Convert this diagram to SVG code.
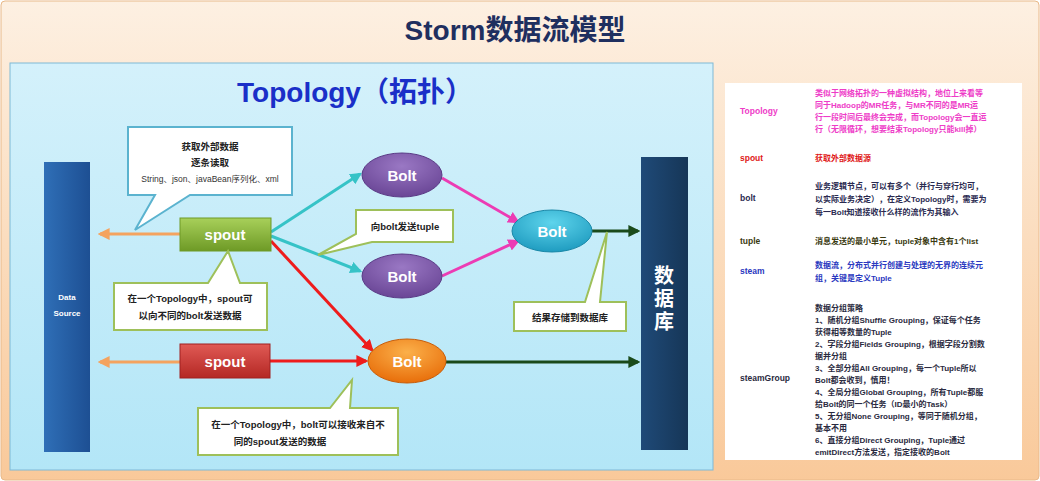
<svg xmlns="http://www.w3.org/2000/svg" width="1040" height="481" viewBox="0 0 1040 481">
<defs>
<linearGradient id="bg" x1="0" y1="0" x2="0" y2="1"><stop offset="0" stop-color="#fdf0e2"/><stop offset="1" stop-color="#f9c99a"/></linearGradient>
<linearGradient id="panel" x1="0" y1="0" x2="0" y2="1"><stop offset="0" stop-color="#d4f1fb"/><stop offset="1" stop-color="#b3e6f7"/></linearGradient>
<linearGradient id="ds" x1="0" y1="0" x2="1" y2="0"><stop offset="0" stop-color="#2f6fb7"/><stop offset="1" stop-color="#1d4f93"/></linearGradient>
<linearGradient id="db" x1="0" y1="0" x2="1" y2="0"><stop offset="0" stop-color="#1f4a78"/><stop offset="1" stop-color="#163657"/></linearGradient>
<linearGradient id="g" x1="0" y1="0" x2="0" y2="1"><stop offset="0" stop-color="#a8d05a"/><stop offset="1" stop-color="#6e9a26"/></linearGradient>
<linearGradient id="r" x1="0" y1="0" x2="0" y2="1"><stop offset="0" stop-color="#e05a55"/><stop offset="1" stop-color="#b42824"/></linearGradient>
<radialGradient id="p" cx="0.5" cy="0.3" r="0.7"><stop offset="0" stop-color="#9a78c4"/><stop offset="1" stop-color="#6a4696"/></radialGradient>
<radialGradient id="t" cx="0.5" cy="0.3" r="0.7"><stop offset="0" stop-color="#5ed4ec"/><stop offset="1" stop-color="#1f9cc0"/></radialGradient>
<radialGradient id="o" cx="0.5" cy="0.3" r="0.7"><stop offset="0" stop-color="#fbb04a"/><stop offset="1" stop-color="#e86e0a"/></radialGradient>
<marker id="aO" viewBox="0 0 10 10" refX="8" refY="5" markerWidth="4" markerHeight="4" orient="auto"><path d="M0,0L10,5L0,10z" fill="#f4a35f"/></marker>
<marker id="aC" viewBox="0 0 10 10" refX="8" refY="5" markerWidth="4" markerHeight="4" orient="auto"><path d="M0,0L10,5L0,10z" fill="#36c3c7"/></marker>
<marker id="aP" viewBox="0 0 10 10" refX="8" refY="5" markerWidth="4" markerHeight="4" orient="auto"><path d="M0,0L10,5L0,10z" fill="#ec3cb4"/></marker>
<marker id="aR" viewBox="0 0 10 10" refX="8" refY="5" markerWidth="4" markerHeight="4" orient="auto"><path d="M0,0L10,5L0,10z" fill="#ee1c1c"/></marker>
<marker id="aG" viewBox="0 0 10 10" refX="8" refY="5" markerWidth="4" markerHeight="4" orient="auto"><path d="M0,0L10,5L0,10z" fill="#1a4a1a"/></marker>
</defs>
<style>
text{font-family:"Liberation Sans","Noto Sans CJK SC",sans-serif}
.b{font-weight:bold}
.node{fill:#fff;font-weight:bold;font-size:15px;text-anchor:middle}
.cb{fill:#fff;stroke-width:2}
.ct{font-size:9.5px;font-weight:bold;fill:#222;text-anchor:middle}
.l{stroke-width:3;fill:none}
.k{font-size:8.5px;font-weight:bold}
.d{font-size:8px;font-weight:bold}
</style>
<rect x="1" y="1" width="1038" height="479" rx="4" fill="url(#bg)" stroke="#e8b98a"/>
<text x="515" y="40" text-anchor="middle" class="b" font-size="28" fill="#1f2f5f">Storm数据流模型</text>
<rect x="10" y="63" width="703" height="407" fill="url(#panel)" stroke="#7fb9d6"/>
<text x="355" y="102" text-anchor="middle" class="b" font-size="28" fill="#1a2fc8">Topology（拓扑）</text>

<g id="connectors">
<line class="l" x1="180" y1="234" x2="100" y2="234" stroke="#f4a35f" marker-end="url(#aO)"/>
<line class="l" x1="180" y1="362" x2="100" y2="362" stroke="#f4a35f" marker-end="url(#aO)"/>
<line class="l" x1="271" y1="232" x2="360" y2="174" stroke="#36c3c7" marker-end="url(#aC)"/>
<line class="l" x1="271" y1="236" x2="360" y2="271" stroke="#36c3c7" marker-end="url(#aC)"/>
<line class="l" x1="442" y1="178" x2="518" y2="222" stroke="#ec3cb4" marker-end="url(#aP)"/>
<line class="l" x1="442" y1="276" x2="518" y2="241" stroke="#ec3cb4" marker-end="url(#aP)"/>
<line class="l" x1="271" y1="241" x2="372" y2="350" stroke="#ee1c1c" marker-end="url(#aR)"/>
<line class="l" x1="270" y1="361" x2="366" y2="361" stroke="#ee1c1c" marker-end="url(#aR)"/>
<line class="l" x1="592" y1="231" x2="638" y2="231" stroke="#1a4a1a" marker-end="url(#aG)"/>
<line class="l" x1="446" y1="362" x2="638" y2="362" stroke="#1a4a1a" marker-end="url(#aG)"/>
</g>

<g id="datasource"><rect x="44" y="162" width="46" height="290" fill="url(#ds)"/><text x="67" y="300" text-anchor="middle" class="b" font-size="8" fill="#fff">Data</text><text x="67" y="316" text-anchor="middle" class="b" font-size="8" fill="#fff">Source</text></g>
<g id="database"><rect x="641" y="157" width="47" height="293" fill="url(#db)"/><text x="664" y="283" text-anchor="middle" class="b" font-size="20" fill="#fff">数</text><text x="664" y="306" text-anchor="middle" class="b" font-size="20" fill="#fff">据</text><text x="664" y="329" text-anchor="middle" class="b" font-size="20" fill="#fff">库</text></g>
<g id="spout1"><rect x="180" y="218" width="91" height="33" fill="url(#g)" stroke="#6e9a26"/><text x="225" y="240" class="node">spout</text></g>
<g id="spout2"><rect x="180" y="344" width="90" height="34" fill="url(#r)" stroke="#a02020"/><text x="225" y="367" class="node">spout</text></g>
<g id="bolt1"><ellipse cx="402" cy="175" rx="40" ry="22" fill="url(#p)" stroke="#5a3a86"/><text x="402" y="181" class="node">Bolt</text></g>
<g id="bolt2"><ellipse cx="402" cy="276" rx="40" ry="22" fill="url(#p)" stroke="#5a3a86"/><text x="402" y="282" class="node">Bolt</text></g>
<g id="bolt3"><ellipse cx="552" cy="231" rx="40" ry="21" fill="url(#t)" stroke="#1a88a8"/><text x="552" y="237" class="node">Bolt</text></g>
<g id="bolt4"><ellipse cx="407" cy="361" rx="39" ry="22" fill="url(#o)" stroke="#c85c08"/><text x="407" y="367" class="node">Bolt</text></g>

<g id="callout1"><path class="cb" stroke="#5bb3cf" d="M128,127H292V195H190L135,230L155,195H128Z"/>
<text x="210" y="150" class="ct">获取外部数据</text><text x="210" y="166" class="ct" font-size="8.5">逐条读取</text><text x="210" y="182" text-anchor="middle" font-size="8.5" fill="#333">String、json、javaBean序列化、xml</text></g>
<g id="callout2"><path class="cb" stroke="#9ec05a" d="M356,210H453V242H372L318,255L356,234Z"/><text x="405" y="230" class="ct">向bolt发送tuple</text></g>
<g id="callout3"><path class="cb" stroke="#9ec05a" d="M114,283H208L228,251L240,283H267V330H114Z"/><text x="190" y="302" class="ct">在一个Topology中，spout可</text><text x="190" y="319" class="ct">以向不同的bolt发送数据</text></g>
<g id="callout4"><path class="cb" stroke="#9ec05a" d="M514,302H585L607,232L600,302H626V331H514Z"/><text x="570" y="321" class="ct">结果存储到数据库</text></g>
<g id="callout5"><path class="cb" stroke="#9ec05a" d="M198,408H330L352,380L350,408H398V455H198Z"/><text x="298" y="428" class="ct">在一个Topology中，bolt可以接收来自不</text><text x="280" y="445" class="ct">同的spout发送的数据</text></g>

<g id="legend">
<rect x="725" y="83" width="297" height="377" fill="#fff"/>
<text x="740" y="114" class="k" fill="#ee3cc8">Topology</text>
<g class="d" fill="#ee3cc8"><text x="815" y="96">类似于网络拓扑的一种虚拟结构，地位上来看等</text><text x="815" y="108">同于Hadoop的MR任务，与MR不同的是MR运</text><text x="815" y="120">行一段时间后最终会完成，而Topology会一直运</text><text x="815" y="132">行（无限循环，想要结束Topology只能kill掉）</text></g>
<text x="740" y="161" class="k" fill="#e01818">spout</text><text x="815" y="161" class="d" fill="#e01818">获取外部数据源</text>
<text x="740" y="201" class="k" fill="#2a2a50">bolt</text>
<g class="d" fill="#2a2a50"><text x="815" y="189">业务逻辑节点，可以有多个（并行与穿行均可，</text><text x="815" y="202">以实际业务决定），在定义Topology时，需要为</text><text x="815" y="215">每一Bolt知道接收什么样的流作为其输入</text></g>
<text x="740" y="244" class="k" fill="#3a3a10">tuple</text><text x="815" y="244" class="d" fill="#3a3a10">消息发送的最小单元，tuple对象中含有1个list</text>
<text x="740" y="274" class="k" fill="#2a38c0">steam</text>
<g class="d" fill="#2a38c0"><text x="815" y="268">数据流，分布式并行创建与处理的无界的连续元</text><text x="815" y="281">组，关键是定义Tuple</text></g>
<text x="740" y="381" class="k" fill="#2a2a40">steamGroup</text>
<g class="d" fill="#2a2a40"><text x="815" y="311">数据分组策略</text><text x="815" y="323">1、随机分组Shuffle Grouping，保证每个任务</text><text x="815" y="335">获得相等数量的Tuple</text><text x="815" y="347">2、字段分组Fields Grouping，根据字段分割数</text><text x="815" y="359">据并分组</text><text x="815" y="371">3、全部分组All Grouping，每一个Tuple所以</text><text x="815" y="383">Bolt都会收到，慎用！</text><text x="815" y="395">4、全局分组Global Grouping，所有Tuple都服</text><text x="815" y="407">给Bolt的同一个任务（ID最小的Task）</text><text x="815" y="419">5、无分组None Grouping，等同于随机分组，</text><text x="815" y="431">基本不用</text><text x="815" y="443">6、直接分组Direct Grouping，Tuple通过</text><text x="815" y="455">emitDirect方法发送，指定接收的Bolt</text></g>
</g>
</svg>
